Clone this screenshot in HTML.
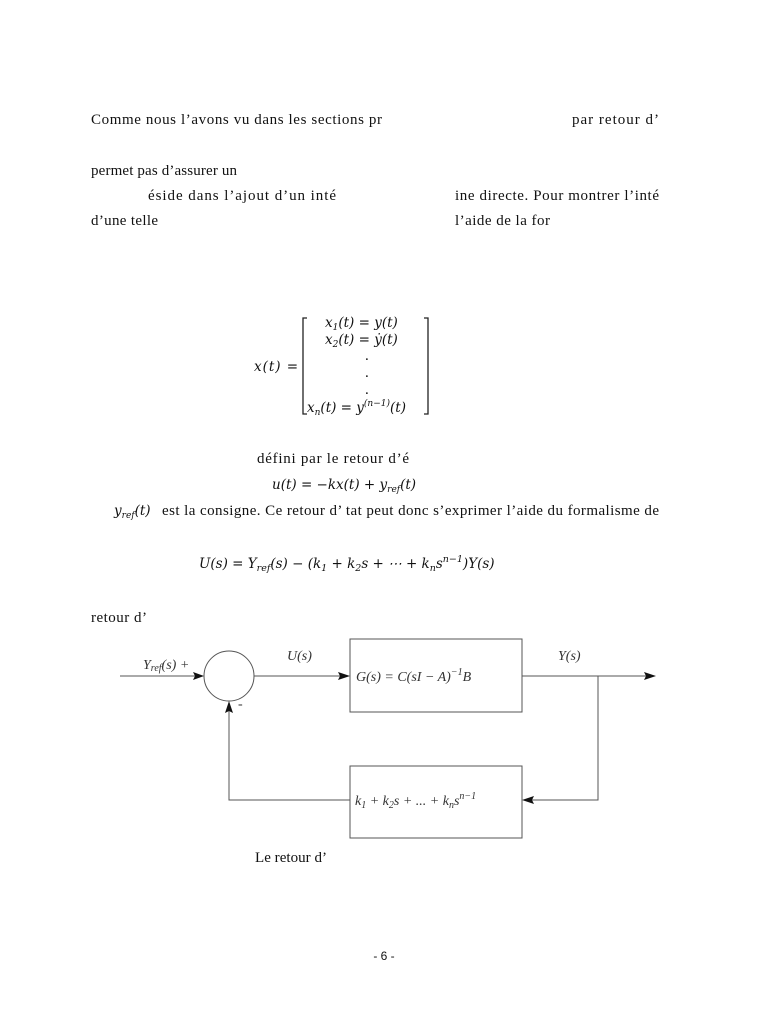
<!DOCTYPE html>
<html><head><meta charset="utf-8"><style>
html,body{margin:0;padding:0;background:#fff;}
svg{display:block;}
text{font-family:"Liberation Serif",serif;fill:#111;}
.t{font-size:15px;}
.m{font-family:"DejaVu Serif","Liberation Serif",serif;font-style:italic;font-size:13.5px;}
.d{font-family:"Liberation Serif",serif;font-style:italic;font-size:14px;fill:#333;}
</style></head><body>
<svg width="768" height="1024" viewBox="0 0 768 1024" xmlns="http://www.w3.org/2000/svg">
<rect width="768" height="1024" fill="#fff"/>
<text class="t" x="91" y="124" textLength="291" lengthAdjust="spacing">Comme nous l’avons vu dans les sections pr</text>
<text class="t" x="572" y="124" textLength="87" lengthAdjust="spacing">par retour d’</text>
<text class="t" x="91" y="175" textLength="146" lengthAdjust="spacing">permet pas d’assurer un</text>
<text class="t" x="148" y="200" textLength="188" lengthAdjust="spacing">éside dans l’ajout d’un inté</text>
<text class="t" x="455" y="200" textLength="204" lengthAdjust="spacing">ine directe. Pour montrer l’inté</text>
<text class="t" x="91" y="225" textLength="67" lengthAdjust="spacing">d’une telle</text>
<text class="t" x="455" y="225" textLength="95" lengthAdjust="spacing">l’aide de la for</text>

<text class="m" x="254" y="371" textLength="44">x(t) =</text>
<path d="M307 318 H303 V414 H307" fill="none" stroke="#222" stroke-width="1.3"/>
<path d="M424 318 H428 V414 H424" fill="none" stroke="#222" stroke-width="1.3"/>
<text class="m" x="325" y="327">x<tspan font-size="9" dy="3">1</tspan><tspan dy="-3">(t) = y(t)</tspan></text>
<text class="m" x="325" y="344">x<tspan font-size="9" dy="3">2</tspan><tspan dy="-3">(t) = ẏ(t)</tspan></text>
<text class="t" x="365" y="360">.</text>
<text class="t" x="365" y="377">.</text>
<text class="t" x="365" y="394">.</text>
<text class="m" x="307" y="412">x<tspan font-size="9" dy="3">n</tspan><tspan dy="-3">(t) = y</tspan><tspan font-size="9" dy="-6">(n−1)</tspan><tspan dy="6">(t)</tspan></text>

<text class="t" x="257" y="463" textLength="152" lengthAdjust="spacing">défini par le retour d’é</text>
<text class="m" x="272" y="489" font-size="14">u(t) = −kx(t) + y<tspan font-size="9" dy="3">ref</tspan><tspan dy="-3">(t)</tspan></text>
<text class="m" x="114" y="515">y<tspan font-size="9" dy="3">ref</tspan><tspan dy="-3">(t)</tspan></text>
<text class="t" x="162" y="515" textLength="497" lengthAdjust="spacing">est la consigne. Ce retour d’  tat peut donc s’exprimer    l’aide du formalisme de</text>
<text class="m" x="199" y="568" font-size="14.5">U(s) = Y<tspan font-size="9.5" dy="3">ref</tspan><tspan dy="-3">(s) − (k</tspan><tspan font-size="9.5" dy="3">1</tspan><tspan dy="-3"> + k</tspan><tspan font-size="9.5" dy="3">2</tspan><tspan dy="-3">s + ⋯ + k</tspan><tspan font-size="9.5" dy="3">n</tspan><tspan dy="-3">s</tspan><tspan font-size="9.5" dy="-6">n−1</tspan><tspan dy="6">)Y(s)</tspan></text>
<text class="t" x="91" y="622" textLength="56" lengthAdjust="spacing">retour d’</text>

<g stroke="#555" stroke-width="1" fill="none">
<circle cx="229" cy="676" r="25"/>
<rect x="350" y="639" width="172" height="73"/>
<rect x="350" y="766" width="172" height="72"/>
<line x1="120" y1="676" x2="200" y2="676"/>
<line x1="254" y1="676" x2="344" y2="676"/>
<line x1="522" y1="676" x2="648" y2="676"/>
<polyline points="598,676 598,800 530,800"/>
<polyline points="350,800 229,800 229,708"/>
</g>
<g fill="#111">
<polygon points="204,676 193,672 195,676 193,680"/>
<polygon points="350,676 338,672 340,676 338,680"/>
<polygon points="656,676 644,672 646,676 644,680"/>
<polygon points="522,800 534,796 532,800 534,804"/>
<polygon points="229,701 225,713 229,711 233,713"/>
</g>
<text class="d" x="143" y="669" font-size="14">Y<tspan font-size="10" dy="2">ref</tspan><tspan dy="-2">(s) +</tspan></text>
<text class="d" x="238" y="708" font-size="9">-</text>
<text class="d" x="287" y="660" font-size="15">U(s)</text>
<text class="d" x="558" y="660" font-size="15">Y(s)</text>
<text class="d" x="356" y="681" font-size="15.5">G(s) = C(sI − A)<tspan font-size="10" dy="-6">−1</tspan><tspan dy="6">B</tspan></text>
<text class="d" x="355" y="805" font-size="14.5">k<tspan font-size="10" dy="3">1</tspan><tspan dy="-3"> + k</tspan><tspan font-size="10" dy="3">2</tspan><tspan dy="-3">s + ... + k</tspan><tspan font-size="10" dy="3">n</tspan><tspan dy="-3">s</tspan><tspan font-size="10" dy="-6">n−1</tspan></text>

<text class="t" x="255" y="862" textLength="72" lengthAdjust="spacing">Le retour d’</text>
<text x="384" y="960" text-anchor="middle" style="font-family:'Liberation Sans',sans-serif;font-size:12px;">- 6 -</text>
</svg>
</body></html>
